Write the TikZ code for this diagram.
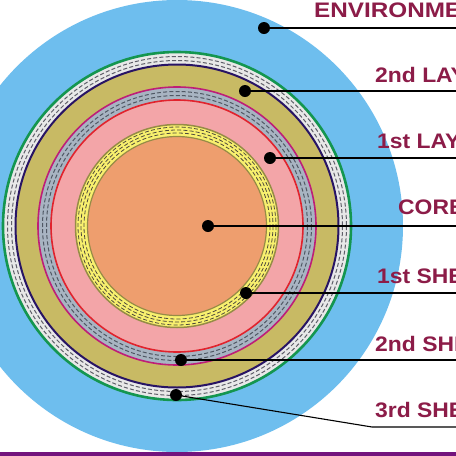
\documentclass[tikz,border=0pt]{standalone}
\usepackage{fontspec}
\setmainfont{Liberation Sans}
\definecolor{envblue}{RGB}{110,190,238}
\definecolor{ringgreen}{RGB}{20,150,80}
\definecolor{bandgray}{RGB}{232,232,232}
\definecolor{dashgray}{RGB}{95,95,105}
\definecolor{ringnavy}{RGB}{40,20,100}
\definecolor{layolive}{RGB}{200,186,100}
\definecolor{ringmag}{RGB}{190,30,120}
\definecolor{shellgray}{RGB}{168,180,194}
\definecolor{shelldash}{RGB}{80,88,100}
\definecolor{ringred}{RGB}{225,35,45}
\definecolor{laypink}{RGB}{243,165,168}
\definecolor{shellyellow}{RGB}{248,240,110}
\definecolor{ringbrown}{RGB}{150,140,70}
\definecolor{yeldash}{RGB}{80,75,60}
\definecolor{corefill}{RGB}{238,158,110}
\definecolor{labcol}{RGB}{140,28,72}
\definecolor{barpurple}{RGB}{115,20,125}
\tikzset{
  dotnode/.style={circle,fill=black,inner sep=0pt,minimum size=12pt},
  leader/.style={black,line width=1.1pt},
  lab/.style={text=labcol,font=\bfseries\fontsize{21}{22}\selectfont,inner sep=0pt,anchor=base west,xscale=1.09},
  dashrow/.style={line width=1pt,dash pattern=on 4pt off 2.2pt}
}
\begin{document}
\begin{tikzpicture}[x=1pt,y=-1pt]
\useasboundingbox (0,0) rectangle (456,456);
\clip (0,0) rectangle (456,456);
\fill[white] (0,0) rectangle (456,456);
\coordinate (C) at (177,226);
% environment
\fill[envblue] (C) circle[radius=226];
% 3rd shell
\filldraw[fill=bandgray,draw=ringgreen,line width=2.6pt] (C) circle[radius=174];
\draw[dashrow,dashgray] (C) circle[radius=165.5];
\draw[dashrow,dashgray] (C) circle[radius=169.5];
% 2nd layer
\filldraw[fill=layolive,draw=ringnavy,line width=2pt] (C) circle[radius=161.5];
% 2nd shell
\filldraw[fill=shellgray,draw=ringmag,line width=1.6pt] (C) circle[radius=139];
\draw[dashrow,shelldash] (C) circle[radius=130.5];
\draw[dashrow,shelldash] (C) circle[radius=134.5];
% 1st layer
\filldraw[fill=laypink,draw=ringred,line width=1.6pt] (C) circle[radius=126];
% 1st shell
\filldraw[fill=shellyellow,draw=ringbrown,line width=1.5pt] (C) circle[radius=101.5];
\draw[dashrow,yeldash,line width=0.8pt] (C) circle[radius=93];
\draw[dashrow,yeldash,line width=0.8pt] (C) circle[radius=96];
\draw[dashrow,yeldash,line width=0.8pt] (C) circle[radius=99];
% core
\filldraw[fill=corefill,draw=ringbrown,line width=1.2pt] (C) circle[radius=89.5];
% bottom bar
\fill[barpurple] (0,452) rectangle (456,456);
% dots
\node[dotnode] (dEnv) at (264,28) {};
\node[dotnode] (dLay2) at (245,91) {};
\node[dotnode] (dLay1) at (270,158) {};
\node[dotnode] (dCore) at (208,226) {};
\node[dotnode] (dSh1) at (246,293) {};
\node[dotnode] (dSh2) at (181,360) {};
\node[dotnode] (dSh3) at (176,395) {};
% leader ends
\coordinate (eEnv) at (457,28);
\coordinate (eLay2) at (457,91);
\coordinate (eLay1) at (457,158);
\coordinate (eCore) at (457,226);
\coordinate (eSh1) at (457,293);
\coordinate (eSh2) at (457,360);
\coordinate (kSh3) at (372,427);
\coordinate (eSh3) at (457,427);
\draw[leader] (dEnv.center) -- (eEnv);
\draw[leader] (dLay2.center) -- (eLay2);
\draw[leader] (dLay1.center) -- (eLay1);
\draw[leader] (dCore.center) -- (eCore);
\draw[leader] (dSh1.center) -- (eSh1);
\draw[leader] (dSh2.center) -- (eSh2);
\draw[leader] (dSh3.center) -- (kSh3) -- (eSh3);
% labels
\node[lab,xscale=1.06] (tEnv) at (314,17) {ENVIRONMENT};
\node[lab] (tLay2) at (375,82) {2nd LAYER};
\node[lab] (tLay1) at (377,148) {1st LAYER};
\node[lab] (tCore) at (398,214) {CORE};
\node[lab] (tSh1) at (377,283) {1st SHELL};
\node[lab] (tSh2) at (375,351) {2nd SHELL};
\node[lab] (tSh3) at (375,417) {3rd SHELL};
\end{tikzpicture}
\end{document}
